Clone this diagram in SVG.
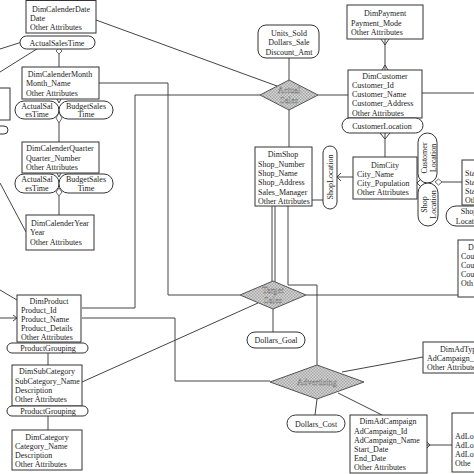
<svg xmlns="http://www.w3.org/2000/svg" width="474" height="474" viewBox="0 0 474 474">
<defs>
<pattern id="chk" width="3" height="3" patternUnits="userSpaceOnUse">
<rect width="3" height="3" fill="#d6d6d6"/>
<rect width="1.5" height="1.5" fill="#a6a6a6"/>
<rect x="1.5" y="1.5" width="1.5" height="1.5" fill="#a6a6a6"/>
</pattern>
</defs>
<style>
.b{fill:#fff;stroke:#333;stroke-width:1}
.e{fill:#fff;stroke:#333;stroke-width:1}
.c path,.c polyline{fill:none;stroke:#444;stroke-width:1}
.c polygon{fill:#fff;stroke:#444;stroke-width:0.8}
.d{fill:url(#chk);stroke:#555;stroke-width:1}
text{font-family:"Liberation Serif","Times New Roman",serif;font-size:8px;fill:#222}
.m{text-anchor:middle}
.dt{fill:#f6f6f6;stroke:#666;stroke-width:0.35;text-anchor:middle;font-size:8.5px}
</style>
<rect width="474" height="474" fill="#fff"/>

<g id="connectors" class="c">
<path d="M96,20 L277,86"/>
<path d="M22,42 L0,49"/>
<path d="M40,47 L0,72"/>
<path d="M59,54 V67"/>
<polygon points="59,48 62,51 59,54 56,51"/>
<path d="M99,83 H168 V295 H240"/>
<path d="M82,308 H135 V95 H260"/>
<path d="M82,318 H175 V381 H270"/>
<path d="M82,382 L258,303"/>
<path d="M0,290 L17,300"/>
<path d="M0,318 H17"/>
<polyline points="13,315 17,318 13,321"/>
<path d="M0,183 L26,232"/>
<path d="M289,58 V80"/>
<path d="M289,110 V147"/>
<path d="M318,95 H348"/>
<path d="M385,39 V70"/>
<polyline points="381,39 385,45 389,39"/>
<polyline points="382,70 385,65 388,70"/>
<path d="M422,93 H474"/>
<path d="M385,133 V157"/>
<polyline points="380,133 385,139 390,133"/>
<path d="M312,200 H323"/>
<path d="M337,177 H353"/>
<polyline points="341,173 337,177 341,181"/>
<polyline points="421,179 417,183 421,187"/>
<path d="M442,182 H462"/>
<polygon points="435,182 438.5,179 442,182 438.5,185"/>
<path d="M272,206 V283 M275,206 V283"/>
<path d="M288,206 V285 H317 V365"/>
<path d="M306,295 H474"/>
<path d="M273,309 V332"/>
<path d="M317,399 L315,415"/>
<path d="M342,372 L423,357"/>
<path d="M338,393 L382,415"/>
<path d="M427,445 H452"/>
<polyline points="427,442 430,445 427,448"/>
<path d="M59,123 V142"/>
<path d="M59,196 V215"/>
<path d="M48,352 V365"/>
<path d="M48,416 V430"/>
</g>

<g id="partial-left">
<rect class="b" x="-20" y="88" width="30" height="32"/>
<rect class="e" x="-30" y="126" width="38" height="8" rx="4"/>
</g>

<g id="DimCalenderDate">
<rect class="b" x="26" y="0.5" width="70" height="32.5"/>
<text class="m" x="61" y="12">DimCalenderDate</text>
<text x="30" y="21">Date</text>
<text x="30" y="30">Other Attributes</text>
</g>
<g id="ActualSalesTime1">
<rect class="e" x="20" y="36" width="75" height="13" rx="6.5"/>
<text class="m" x="57" y="45.5">ActualSalesTime</text>
</g>
<g id="DimCalenderMonth">
<rect class="b" x="22" y="67" width="77" height="32"/>
<text class="m" x="60" y="77">DimCalenderMonth</text>
<text x="26" y="86">Month_Name</text>
<text x="26" y="95.5">Other Attributes</text>
</g>
<g id="ActualSalesTime2">
<rect class="e" x="15" y="101" width="44" height="18" rx="9"/>
<text class="m" x="37" y="108.5">ActualSal</text>
<text class="m" x="37" y="117">esTime</text>
</g>
<g id="BudgetSalesTime1">
<rect class="e" x="59" y="101" width="54" height="18" rx="9"/>
<text class="m" x="86" y="108.5">BudgetSales</text>
<text class="m" x="86" y="117">Time</text>
</g>
<g id="cf1" class="c">
<polygon points="59,113 62,118 59,123 56,118"/>
<polyline points="57,99 59,103 61,99"/>
</g>
<g id="DimCalenderQuarter">
<rect class="b" x="22" y="142" width="77" height="31"/>
<text class="m" x="60" y="151">DimCalenderQuarter</text>
<text x="26" y="160.5">Quarter_Number</text>
<text x="26" y="170">Other Attributes</text>
</g>
<g id="ActualSalesTime3">
<rect class="e" x="15" y="174" width="44" height="19" rx="9"/>
<text class="m" x="37" y="182">ActualSal</text>
<text class="m" x="37" y="190.5">esTime</text>
</g>
<g id="BudgetSalesTime2">
<rect class="e" x="59" y="174" width="54" height="19" rx="9"/>
<text class="m" x="86" y="182">BudgetSales</text>
<text class="m" x="86" y="190.5">Time</text>
</g>
<g id="cf2" class="c">
<polygon points="59,188 62,192 59,196 56,192"/>
<polyline points="57,173 59,177 61,173"/>
</g>
<g id="DimCalenderYear">
<rect class="b" x="26" y="215" width="68" height="35"/>
<text class="m" x="60" y="226">DimCalenderYear</text>
<text x="30" y="235">Year</text>
<text x="30" y="245">Other Attributes</text>
</g>

<g id="DimProduct">
<rect class="b" x="17" y="295" width="64" height="47"/>
<text class="m" x="49" y="303.5">DimProduct</text>
<text x="21" y="313">Product_Id</text>
<text x="21" y="322">Product_Name</text>
<text x="21" y="331">Product_Details</text>
<text x="21" y="340">Other Attributes</text>
</g>
<g id="ProductGrouping1">
<rect class="e" x="7" y="343" width="81" height="10" rx="5"/>
<text class="m" x="48" y="351">ProductGrouping</text>
</g>
<g id="DimSubCategory">
<rect class="b" x="12" y="365" width="70" height="41"/>
<text class="m" x="47" y="374">DimSubCategory</text>
<text x="15" y="384">SubCategory_Name</text>
<text x="15" y="393">Description</text>
<text x="15" y="402">Other Attributes</text>
</g>
<g id="ProductGrouping2">
<rect class="e" x="7" y="406" width="81" height="10" rx="5"/>
<text class="m" x="48" y="414">ProductGrouping</text>
</g>
<g id="DimCategory">
<rect class="b" x="12" y="430" width="70" height="40"/>
<text class="m" x="47" y="440">DimCategory</text>
<text x="15" y="449">Category_Name</text>
<text x="15" y="458">Description</text>
<text x="15" y="467">Other Attributes</text>
</g>

<g id="SalesMeasures">
<rect class="e" x="258" y="25" width="61" height="33" rx="8"/>
<text class="m" x="289" y="36">Units_Sold</text>
<text class="m" x="289" y="45">Dollars_Sale</text>
<text class="m" x="289" y="54.5">Discount_Amt</text>
</g>
<g id="ActualSales">
<polygon class="d" points="260,95 289,80 318,95 289,110"/>
<text class="dt" x="289" y="93">Actual</text>
<text class="dt" x="289" y="102.5">Sales</text>
</g>
<g id="DimShop">
<rect class="b" x="255" y="147" width="57" height="59"/>
<text class="m" x="283" y="157">DimShop</text>
<text x="258" y="167">Shop_Number</text>
<text x="258" y="176">Shop_Name</text>
<text x="258" y="185">Shop_Address</text>
<text x="258" y="194.5">Sales_Manager</text>
<text x="258" y="203.5">Other Attributes</text>
</g>
<g id="ShopLocation1">
<rect class="e" x="323" y="146" width="14" height="63" rx="7"/>
<text class="m" transform="translate(333,177) rotate(-90)">ShopLocation</text>
</g>

<g id="DimPayment">
<rect class="b" x="347" y="5" width="76" height="34"/>
<text class="m" x="385" y="16">DimPayment</text>
<text x="351" y="26">Payment_Mode</text>
<text x="351" y="35">Other Attributes</text>
</g>
<g id="DimCustomer">
<rect class="b" x="348" y="70" width="74" height="48"/>
<text class="m" x="385" y="79">DimCustomer</text>
<text x="352" y="88">Customer_Id</text>
<text x="352" y="97">Customer_Name</text>
<text x="352" y="106">Customer_Address</text>
<text x="352" y="115.5">Other Attributes</text>
</g>
<g id="CustomerLocation1">
<rect class="e" x="342" y="118" width="81" height="15" rx="7.5"/>
<text class="m" x="382" y="128.5">CustomerLocation</text>
</g>
<g id="DimCity">
<rect class="b" x="353" y="157" width="64" height="42"/>
<text class="m" x="385" y="168">DimCity</text>
<text x="357" y="177">City_Name</text>
<text x="357" y="186">City_Population</text>
<text x="357" y="195">Other Attributes</text>
</g>
<g id="CustomerLocation2">
<rect class="e" x="418" y="133" width="19" height="50" rx="9.5"/>
<g transform="translate(428,158) rotate(-90)">
<text class="m" x="0" y="-1">Customer</text>
<text class="m" x="0" y="8">Location</text>
</g>
</g>
<g id="ShopLocation2">
<rect class="e" x="418" y="183" width="20" height="43" rx="10"/>
<g transform="translate(428,204.5) rotate(-90)">
<text class="m" x="0" y="-1">Shop</text>
<text class="m" x="0" y="8">Location</text>
</g>
</g>
<g id="DimState">
<rect class="b" x="462" y="160" width="30" height="45"/>
<text x="465" y="176">Sta</text>
<text x="465" y="185">Sta</text>
<text x="465" y="194">Sta</text>
<text x="465" y="203">Oth</text>
</g>
<g id="ShopLocation3">
<rect class="e" x="446" y="206" width="50" height="20" rx="10"/>
<text class="m" x="469" y="214">Shop</text>
<text class="m" x="470" y="223.5">Location</text>
</g>
<g id="DimCountry">
<rect class="b" x="458" y="240" width="30" height="57"/>
<text x="468" y="250">D</text>
<text x="461" y="259">Cou</text>
<text x="461" y="268">Cou</text>
<text x="461" y="277">Cou</text>
<text x="461" y="286">Oth</text>
</g>

<g id="TargetSales">
<polygon class="d" points="240,295 273,281 306,295 273,309"/>
<text class="dt" x="273" y="293">Target</text>
<text class="dt" x="273" y="303">Sales</text>
</g>
<g id="DollarsGoal">
<rect class="e" x="247" y="332" width="58" height="16" rx="8"/>
<text class="m" x="276" y="343">Dollars_Goal</text>
</g>
<g id="Advertising">
<polygon class="d" points="270,382 317,365 364,382 317,399"/>
<text class="dt" x="317" y="385">Advertising</text>
</g>
<g id="DollarsCost">
<rect class="e" x="287" y="415" width="58" height="17" rx="8.5"/>
<text class="m" x="316" y="426.5">Dollars_Cost</text>
</g>
<g id="DimAdType">
<rect class="b" x="423" y="342" width="60" height="31"/>
<text x="440" y="352">DimAdType</text>
<text x="427" y="360.5">AdCampaign_</text>
<text x="427" y="369.5">Other Attributes</text>
</g>
<g id="DimAdCampaign">
<rect class="b" x="350" y="415" width="77" height="58"/>
<text class="m" x="388" y="424">DimAdCampaign</text>
<text x="354" y="434">AdCampaign_Id</text>
<text x="354" y="443">AdCampaign_Name</text>
<text x="354" y="451.5">Start_Date</text>
<text x="354" y="460.5">End_Date</text>
<text x="354" y="470">Other Attributes</text>
</g>
<g id="DimAdLocation">
<rect class="b" x="452" y="413" width="30" height="59"/>
<text x="455" y="439">AdLo</text>
<text x="455" y="448">AdLo</text>
<text x="455" y="457">AdLo</text>
<text x="455" y="466">Othe</text>
</g>
</svg>
